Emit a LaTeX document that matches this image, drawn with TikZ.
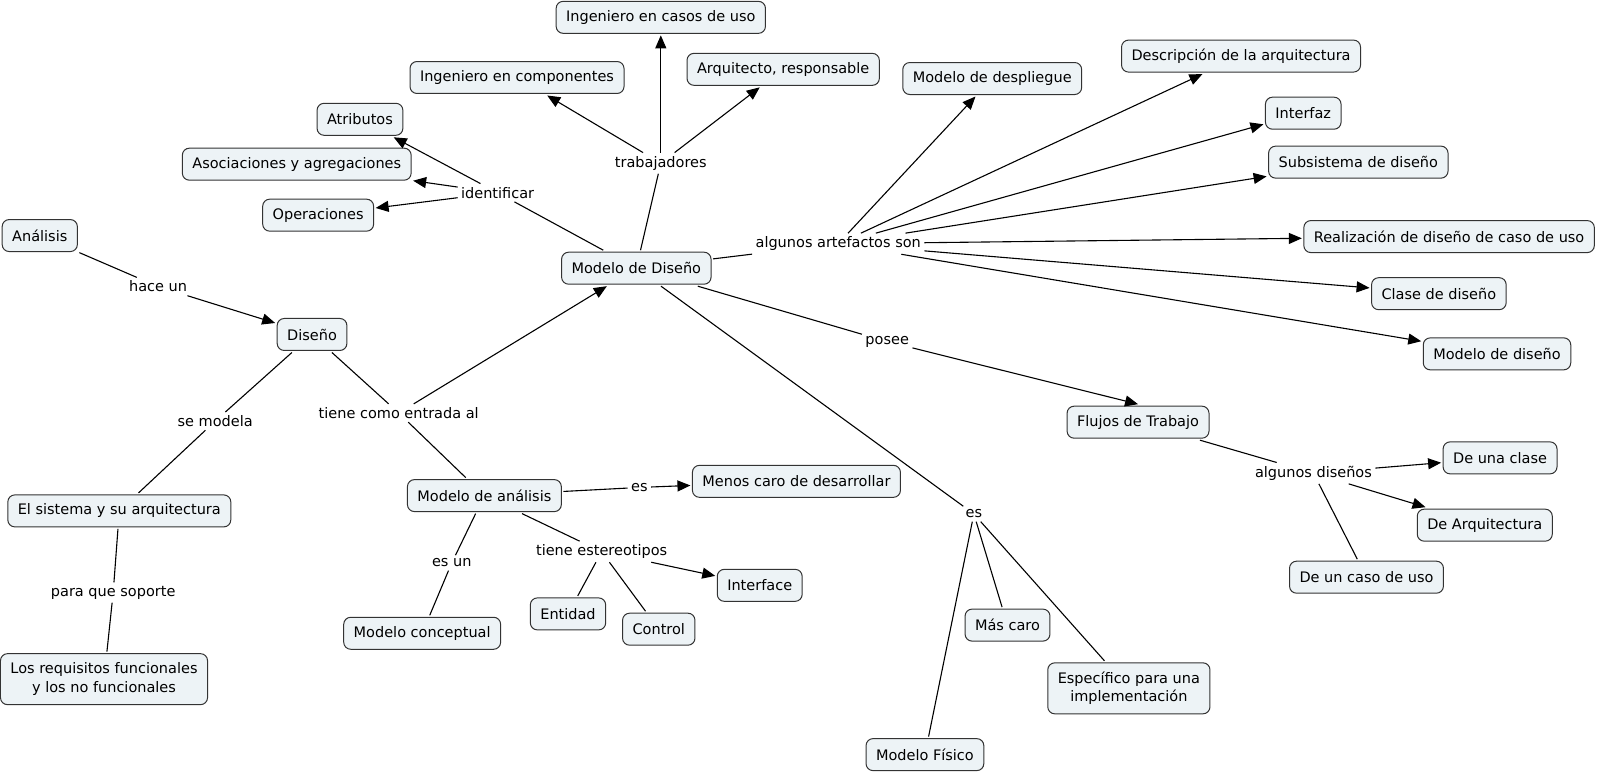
\documentclass[tikz,border=0pt]{standalone}
\usepackage{fontspec}
\setmainfont{DejaVu Sans}
\usetikzlibrary{arrows.meta}

\definecolor{conceptfill}{HTML}{EDF3F6}
\definecolor{conceptdraw}{HTML}{333333}

\begin{document}
\begin{tikzpicture}[
  x=1.02pt, y=-1.02pt,
  line width=1.1pt,
  myconcept/.style={
    draw=conceptdraw,
    fill=conceptfill,
    rounded corners=7pt,
    line width=1pt,
    inner xsep=10pt,
    minimum height=32pt,
    outer sep=2pt,
    align=center,
    font=\fontsize{14.5}{18.5}\selectfont
    },
  mytall/.style={myconcept, minimum height=51pt},
  mylink/.style={
    inner sep=3pt,
    font=\fontsize{14.5}{18.5}\selectfont
    },
  myarrow/.style={-{Triangle[length=13pt,width=11pt]}}
]

\useasboundingbox (0,0) rectangle (1569,758);

% Concepts
\node[myconcept] (cu) at (648,17) {Ingeniero en casos de uso};
\node[myconcept] (comp) at (507,76) {Ingeniero en componentes};
\node[myconcept] (arq) at (768,68) {Arquitecto, responsable};
\node[myconcept] (despl) at (973,77) {Modelo de despliegue};
\node[myconcept] (descr) at (1217,55) {Descripción de la arquitectura};
\node[myconcept] (interfaz) at (1278,111) {Interfaz};
\node[myconcept] (subsis) at (1332,159) {Subsistema de diseño};
\node[myconcept] (realiz) at (1421,232) {Realización de diseño de caso de uso};
\node[myconcept] (clase) at (1411,288) {Clase de diseño};
\node[myconcept] (mdis) at (1468,347) {Modelo de diseño};
\node[myconcept] (atrib) at (353,117) {Atributos};
\node[myconcept] (asoc) at (291,161) {Asociaciones y agregaciones};
\node[myconcept] (oper) at (312,211) {Operaciones};
\node[myconcept] (analisis) at (39,231) {Análisis};
\node[myconcept] (diseno) at (306,328) {Diseño};
\node[myconcept] (mdd) at (624,263) {Modelo de Diseño};
\node[myconcept] (sistema) at (117,501) {El sistema y su arquitectura};
\node[mytall] (requis) at (102,666) {Los requisitos funcionales\\ y los no funcionales};
\node[myconcept] (mana) at (475,486) {Modelo de análisis};
\node[myconcept] (menos) at (781,472) {Menos caro de desarrollar};
\node[myconcept] (interface) at (745,574) {Interface};
\node[myconcept] (entidad) at (557,602) {Entidad};
\node[myconcept] (control) at (646,617) {Control};
\node[myconcept] (conceptual) at (414,621) {Modelo conceptual};
\node[myconcept] (flujos) at (1116,414) {Flujos de Trabajo};
\node[myconcept] (unaclase) at (1471,449) {De una clase};
\node[myconcept] (arquit) at (1456,515) {De Arquitectura};
\node[myconcept] (casouso) at (1340,566) {De un caso de uso};
\node[myconcept] (mascaro) at (988,613) {Más caro};
\node[mytall] (especif) at (1107,675) {Específico para una\\ implementación};
\node[myconcept] (fisico) at (907,740) {Modelo Físico};

% Linking phrases
\node[mylink] (trab) at (648,160) {trabajadores};
\node[mylink] (ident) at (488,189) {identificar};
\node[mylink] (artef) at (822,239) {algunos artefactos son};
\node[mylink] (haceun) at (155,281) {hace un};
\node[mylink] (semodela) at (211,413) {se modela};
\node[mylink] (entrada) at (391,405) {tiene como entrada al};
\node[mylink] (posee) at (870,335) {posee};
\node[mylink] (esmenos) at (627,478) {es};
\node[mylink] (estereo) at (590,541) {tiene estereotipos};
\node[mylink] (esun) at (443,552) {es un};
\node[mylink] (soporte) at (111,581) {para que soporte};
\node[mylink] (es) at (955,504) {es};
\node[mylink] (disenos) at (1288,464) {algunos diseños};

% Connectors
\draw (mdd) -- (trab);
\draw[myarrow] (trab) -- (cu);
\draw[myarrow] (trab) -- (comp);
\draw[myarrow] (trab) -- (arq);

\draw (mdd) -- (ident);
\draw[myarrow] (ident) -- (atrib);
\draw[myarrow] (ident) -- (asoc);
\draw[myarrow] (ident) -- (oper);

\draw (mdd) -- (artef);
\foreach \t in {despl, descr, interfaz, subsis, realiz, clase, mdis}
  \draw[myarrow] (artef) -- (\t);

\draw (mdd) -- (posee);
\draw[myarrow] (posee) -- (flujos.north);
\draw (flujos) -- (disenos);
\draw[myarrow] (disenos) -- (unaclase);
\draw[myarrow] (disenos) -- (arquit);
\draw (disenos) -- (casouso);

\draw (mdd) -- (es);
\foreach \t in {mascaro, especif, fisico}
  \draw (es) -- (\t);

\draw (analisis) -- (haceun);
\draw[myarrow] (haceun) -- (diseno);
\draw (diseno) -- (semodela);
\draw (semodela) -- (sistema);
\draw (diseno) -- (entrada);
\draw[myarrow] (entrada) -- (mdd);
\draw (entrada) -- (mana);

\draw (sistema) -- (soporte);
\draw (soporte) -- (requis);

\draw (mana) -- (esmenos);
\draw[myarrow] (esmenos) -- (menos);
\draw (mana) -- (estereo);
\draw[myarrow] (estereo) -- (interface);
\draw (estereo) -- (entidad);
\draw (estereo) -- (control);
\draw (mana) -- (esun);
\draw (esun) -- (conceptual);

\end{tikzpicture}
\end{document}
